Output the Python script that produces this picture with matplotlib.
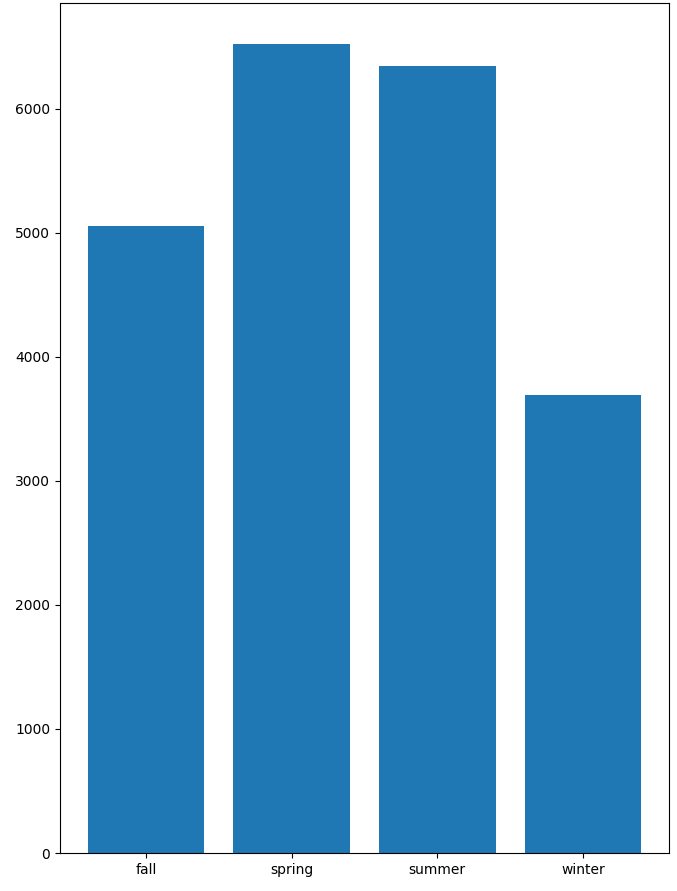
import matplotlib

matplotlib.use("agg")
import matplotlib.pyplot as plt

seasons = ["fall", "spring", "summer", "winter"]
counts = [5056, 6524, 6339, 3694]

fig = plt.figure(figsize=(6.77, 8.91), dpi=100)
ax = fig.add_axes([0.0886, 0.0426, 0.8994, 0.954])
ax.bar(seasons, counts, color="#1f77b4")

fig.savefig("out.png", dpi=100)
